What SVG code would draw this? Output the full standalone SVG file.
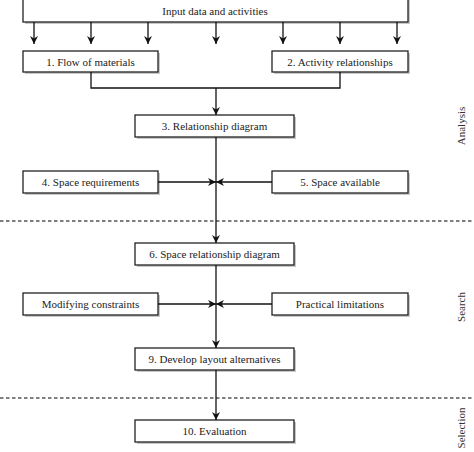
<svg xmlns="http://www.w3.org/2000/svg" width="474" height="452" viewBox="0 0 474 452">
<defs>
<marker id="ah" viewBox="0 0 10 10" refX="10" refY="5" markerWidth="8" markerHeight="8" markerUnits="userSpaceOnUse" orient="auto">
<path d="M0,0 L10,5 L0,10 L3,5 Z" fill="#111"/>
</marker>
</defs>
<style>
.box{fill:#fff;stroke:#222;stroke-width:1.3}
.sh{fill:#c8c8c8}
.t{font-family:"Liberation Serif","Times New Roman",serif;font-size:11px;fill:#222;text-anchor:middle}
.c{fill:none;stroke:#111;stroke-width:1.3}
.d{fill:none;stroke:#555;stroke-width:1.5;stroke-dasharray:3.5 2.5}
.side{font-family:"Liberation Serif","Times New Roman",serif;font-size:11px;fill:#333;text-anchor:middle}
</style>
<rect width="474" height="452" fill="#fff"/>
<g id="dividers">
<line class="d" x1="0" y1="221" x2="474" y2="221"/>
<line class="d" x1="0" y1="398" x2="474" y2="398"/>
</g>
<g id="labels">
<text class="side" transform="translate(465,126) rotate(-90)">Analysis</text>
<text class="side" transform="translate(465,307) rotate(-90)">Search</text>
<text class="side" transform="translate(465,428) rotate(-90)">Selection</text>
</g>
<g id="n0">
<rect class="sh" x="25" y="-8" width="385" height="32"/>
<rect class="box" x="23" y="-10" width="385" height="32"/>
<text class="t" x="215" y="15">Input data and activities</text>
</g>
<g id="n1">
<rect class="sh" x="25" y="53" width="135" height="21"/>
<rect class="box" x="23" y="51" width="135" height="21"/>
<text class="t" x="90.5" y="65.5">1. Flow of materials</text>
</g>
<g id="n2">
<rect class="sh" x="274" y="53" width="136" height="21"/>
<rect class="box" x="272" y="51" width="136" height="21"/>
<text class="t" x="340" y="65.5">2. Activity relationships</text>
</g>
<g id="n3">
<rect class="sh" x="137" y="117" width="159" height="22"/>
<rect class="box" x="135" y="115" width="159" height="22"/>
<text class="t" x="214.5" y="130">3. Relationship diagram</text>
</g>
<g id="n4">
<rect class="sh" x="25" y="173" width="135" height="22"/>
<rect class="box" x="23" y="171" width="135" height="22"/>
<text class="t" x="90.5" y="186">4. Space requirements</text>
</g>
<g id="n5">
<rect class="sh" x="274" y="173" width="136" height="22"/>
<rect class="box" x="272" y="171" width="136" height="22"/>
<text class="t" x="340" y="186">5. Space available</text>
</g>
<g id="n6">
<rect class="sh" x="137" y="245" width="159" height="22"/>
<rect class="box" x="135" y="243" width="159" height="22"/>
<text class="t" x="214.5" y="258">6. Space relationship diagram</text>
</g>
<g id="n7">
<rect class="sh" x="25" y="295" width="135" height="22"/>
<rect class="box" x="23" y="293" width="135" height="22"/>
<text class="t" x="90.5" y="308">Modifying constraints</text>
</g>
<g id="n8">
<rect class="sh" x="274" y="295" width="136" height="22"/>
<rect class="box" x="272" y="293" width="136" height="22"/>
<text class="t" x="340" y="308">Practical limitations</text>
</g>
<g id="n9">
<rect class="sh" x="137" y="350" width="159" height="22"/>
<rect class="box" x="135" y="348" width="159" height="22"/>
<text class="t" x="214.5" y="363">9. Develop layout alternatives</text>
</g>
<g id="n10">
<rect class="sh" x="137" y="422" width="159" height="22"/>
<rect class="box" x="135" y="420" width="159" height="22"/>
<text class="t" x="214.5" y="435">10. Evaluation</text>
</g>
<g id="connectors">
<line class="c" x1="34" y1="22" x2="34" y2="44" marker-end="url(#ah)"/>
<line class="c" x1="91" y1="22" x2="91" y2="44" marker-end="url(#ah)"/>
<line class="c" x1="148" y1="22" x2="148" y2="44" marker-end="url(#ah)"/>
<line class="c" x1="216" y1="22" x2="216" y2="44" marker-end="url(#ah)"/>
<line class="c" x1="283" y1="22" x2="283" y2="44" marker-end="url(#ah)"/>
<line class="c" x1="340" y1="22" x2="340" y2="44" marker-end="url(#ah)"/>
<line class="c" x1="397" y1="22" x2="397" y2="44" marker-end="url(#ah)"/>
<polyline class="c" points="91,72 91,88 340,88 340,72"/>
<line class="c" x1="216" y1="88" x2="216" y2="115" marker-end="url(#ah)"/>
<line class="c" x1="216" y1="137" x2="216" y2="243" marker-end="url(#ah)"/>
<line class="c" x1="158" y1="182" x2="216" y2="182" marker-end="url(#ah)"/>
<line class="c" x1="272" y1="182" x2="216" y2="182" marker-end="url(#ah)"/>
<line class="c" x1="216" y1="265" x2="216" y2="348" marker-end="url(#ah)"/>
<line class="c" x1="158" y1="304" x2="216" y2="304" marker-end="url(#ah)"/>
<line class="c" x1="272" y1="304" x2="216" y2="304" marker-end="url(#ah)"/>
<line class="c" x1="216" y1="370" x2="216" y2="420" marker-end="url(#ah)"/>
</g>
</svg>
